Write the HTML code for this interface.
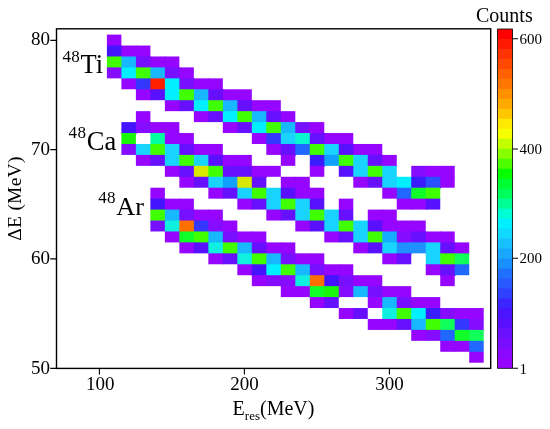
<!DOCTYPE html>
<html><head><meta charset="utf-8"><title>dE-E</title>
<style>
html,body{margin:0;padding:0;background:#fff;}
svg{display:block;}
text{font-family:"Liberation Serif",serif;fill:#000;}
</style></head><body>
<svg width="550" height="429" viewBox="0 0 550 429">
<rect width="550" height="429" fill="#fff"/>
<g id="cells">
<rect x="106.90" y="34.60" width="14.49" height="11.74" fill="#9505ff"/>
<rect x="106.90" y="45.54" width="15.29" height="11.74" fill="#4414ff"/>
<rect x="121.39" y="45.54" width="15.29" height="11.74" fill="#9505ff"/>
<rect x="135.89" y="45.54" width="14.49" height="11.74" fill="#9505ff"/>
<rect x="106.90" y="56.47" width="15.29" height="11.74" fill="#40ff00"/>
<rect x="121.39" y="56.47" width="15.29" height="11.74" fill="#18b8ff"/>
<rect x="135.89" y="56.47" width="15.29" height="11.74" fill="#7610ff"/>
<rect x="150.38" y="56.47" width="15.29" height="11.74" fill="#9505ff"/>
<rect x="164.87" y="56.47" width="14.49" height="11.74" fill="#9505ff"/>
<rect x="106.90" y="67.41" width="15.29" height="10.94" fill="#860cff"/>
<rect x="121.39" y="67.41" width="15.29" height="11.74" fill="#00f0ff"/>
<rect x="135.89" y="67.41" width="15.29" height="11.74" fill="#40ff00"/>
<rect x="150.38" y="67.41" width="15.29" height="11.74" fill="#18b8ff"/>
<rect x="164.87" y="67.41" width="15.29" height="11.74" fill="#7610ff"/>
<rect x="179.37" y="67.41" width="14.49" height="11.74" fill="#9505ff"/>
<rect x="121.39" y="78.35" width="15.29" height="10.94" fill="#9505ff"/>
<rect x="135.89" y="78.35" width="15.29" height="11.74" fill="#3438ff"/>
<rect x="150.38" y="78.35" width="15.29" height="11.74" fill="#ff2000"/>
<rect x="164.87" y="78.35" width="15.29" height="11.74" fill="#00f0ff"/>
<rect x="179.37" y="78.35" width="15.29" height="11.74" fill="#7610ff"/>
<rect x="193.86" y="78.35" width="15.29" height="11.74" fill="#9505ff"/>
<rect x="208.35" y="78.35" width="14.49" height="11.74" fill="#9505ff"/>
<rect x="135.89" y="89.28" width="15.29" height="10.94" fill="#9505ff"/>
<rect x="150.38" y="89.28" width="15.29" height="10.94" fill="#5810ff"/>
<rect x="164.87" y="89.28" width="15.29" height="11.74" fill="#00f0ff"/>
<rect x="179.37" y="89.28" width="15.29" height="11.74" fill="#40ff00"/>
<rect x="193.86" y="89.28" width="15.29" height="11.74" fill="#18b8ff"/>
<rect x="208.35" y="89.28" width="15.29" height="11.74" fill="#6610ff"/>
<rect x="222.84" y="89.28" width="15.29" height="11.74" fill="#9505ff"/>
<rect x="237.34" y="89.28" width="14.49" height="11.74" fill="#9505ff"/>
<rect x="164.87" y="100.22" width="15.29" height="10.94" fill="#9505ff"/>
<rect x="179.37" y="100.22" width="15.29" height="10.94" fill="#6610ff"/>
<rect x="193.86" y="100.22" width="15.29" height="11.74" fill="#00f0ff"/>
<rect x="208.35" y="100.22" width="15.29" height="11.74" fill="#40ff00"/>
<rect x="222.84" y="100.22" width="15.29" height="11.74" fill="#18b8ff"/>
<rect x="237.34" y="100.22" width="15.29" height="11.74" fill="#6610ff"/>
<rect x="251.83" y="100.22" width="15.29" height="11.74" fill="#9505ff"/>
<rect x="266.32" y="100.22" width="14.49" height="11.74" fill="#9505ff"/>
<rect x="135.89" y="111.16" width="14.49" height="11.74" fill="#9505ff"/>
<rect x="193.86" y="111.16" width="15.29" height="10.94" fill="#9505ff"/>
<rect x="208.35" y="111.16" width="15.29" height="10.94" fill="#6610ff"/>
<rect x="222.84" y="111.16" width="15.29" height="11.74" fill="#00f0ff"/>
<rect x="237.34" y="111.16" width="15.29" height="11.74" fill="#40ff00"/>
<rect x="251.83" y="111.16" width="15.29" height="11.74" fill="#18b8ff"/>
<rect x="266.32" y="111.16" width="15.29" height="11.74" fill="#6610ff"/>
<rect x="280.82" y="111.16" width="14.49" height="11.74" fill="#9505ff"/>
<rect x="121.39" y="122.10" width="15.29" height="11.74" fill="#4414ff"/>
<rect x="135.89" y="122.10" width="15.29" height="10.94" fill="#860cff"/>
<rect x="150.38" y="122.10" width="15.29" height="11.74" fill="#9505ff"/>
<rect x="164.87" y="122.10" width="14.49" height="11.74" fill="#9505ff"/>
<rect x="222.84" y="122.10" width="15.29" height="10.94" fill="#9505ff"/>
<rect x="237.34" y="122.10" width="15.29" height="10.94" fill="#6610ff"/>
<rect x="251.83" y="122.10" width="15.29" height="11.74" fill="#00f0ff"/>
<rect x="266.32" y="122.10" width="15.29" height="11.74" fill="#40ff00"/>
<rect x="280.82" y="122.10" width="15.29" height="11.74" fill="#18b8ff"/>
<rect x="295.31" y="122.10" width="15.29" height="11.74" fill="#7610ff"/>
<rect x="309.80" y="122.10" width="14.49" height="11.74" fill="#9505ff"/>
<rect x="121.39" y="133.03" width="14.49" height="11.74" fill="#18f808"/>
<rect x="150.38" y="133.03" width="15.29" height="11.74" fill="#00ffa0"/>
<rect x="164.87" y="133.03" width="15.29" height="11.74" fill="#9505ff"/>
<rect x="179.37" y="133.03" width="14.49" height="11.74" fill="#9505ff"/>
<rect x="251.83" y="133.03" width="15.29" height="10.94" fill="#9505ff"/>
<rect x="266.32" y="133.03" width="15.29" height="11.74" fill="#3438ff"/>
<rect x="280.82" y="133.03" width="15.29" height="11.74" fill="#18d4ff"/>
<rect x="295.31" y="133.03" width="15.29" height="11.74" fill="#08f8d0"/>
<rect x="309.80" y="133.03" width="15.29" height="11.74" fill="#6610ff"/>
<rect x="324.30" y="133.03" width="15.29" height="11.74" fill="#9505ff"/>
<rect x="338.79" y="133.03" width="14.49" height="11.74" fill="#9505ff"/>
<rect x="121.39" y="143.97" width="15.29" height="10.94" fill="#860cff"/>
<rect x="135.89" y="143.97" width="15.29" height="11.74" fill="#18d4ff"/>
<rect x="150.38" y="143.97" width="15.29" height="11.74" fill="#40ff00"/>
<rect x="164.87" y="143.97" width="15.29" height="11.74" fill="#18d4ff"/>
<rect x="179.37" y="143.97" width="15.29" height="11.74" fill="#6610ff"/>
<rect x="193.86" y="143.97" width="15.29" height="11.74" fill="#9505ff"/>
<rect x="208.35" y="143.97" width="14.49" height="11.74" fill="#9505ff"/>
<rect x="266.32" y="143.97" width="15.29" height="10.94" fill="#9505ff"/>
<rect x="280.82" y="143.97" width="15.29" height="11.74" fill="#6610ff"/>
<rect x="295.31" y="143.97" width="15.29" height="10.94" fill="#2068ff"/>
<rect x="309.80" y="143.97" width="15.29" height="11.74" fill="#40ff00"/>
<rect x="324.30" y="143.97" width="15.29" height="11.74" fill="#18d4ff"/>
<rect x="338.79" y="143.97" width="15.29" height="11.74" fill="#5810ff"/>
<rect x="353.28" y="143.97" width="15.29" height="11.74" fill="#9505ff"/>
<rect x="367.77" y="143.97" width="14.49" height="11.74" fill="#9505ff"/>
<rect x="135.89" y="154.91" width="15.29" height="10.94" fill="#9505ff"/>
<rect x="150.38" y="154.91" width="15.29" height="10.94" fill="#6610ff"/>
<rect x="164.87" y="154.91" width="15.29" height="11.74" fill="#18d4ff"/>
<rect x="179.37" y="154.91" width="15.29" height="11.74" fill="#40ff00"/>
<rect x="193.86" y="154.91" width="15.29" height="11.74" fill="#18d4ff"/>
<rect x="208.35" y="154.91" width="15.29" height="11.74" fill="#5810ff"/>
<rect x="222.84" y="154.91" width="15.29" height="11.74" fill="#9505ff"/>
<rect x="237.34" y="154.91" width="14.49" height="11.74" fill="#9505ff"/>
<rect x="280.82" y="154.91" width="14.49" height="10.94" fill="#9505ff"/>
<rect x="309.80" y="154.91" width="15.29" height="11.74" fill="#3a1cff"/>
<rect x="324.30" y="154.91" width="15.29" height="10.94" fill="#10a0ff"/>
<rect x="338.79" y="154.91" width="15.29" height="11.74" fill="#40ff00"/>
<rect x="353.28" y="154.91" width="15.29" height="11.74" fill="#18d4ff"/>
<rect x="367.77" y="154.91" width="15.29" height="11.74" fill="#6610ff"/>
<rect x="382.27" y="154.91" width="14.49" height="11.74" fill="#9505ff"/>
<rect x="164.87" y="165.84" width="15.29" height="10.94" fill="#9505ff"/>
<rect x="179.37" y="165.84" width="15.29" height="11.74" fill="#6610ff"/>
<rect x="193.86" y="165.84" width="15.29" height="11.74" fill="#d8e800"/>
<rect x="208.35" y="165.84" width="15.29" height="11.74" fill="#40ff00"/>
<rect x="222.84" y="165.84" width="15.29" height="11.74" fill="#6610ff"/>
<rect x="237.34" y="165.84" width="15.29" height="11.74" fill="#6610ff"/>
<rect x="251.83" y="165.84" width="15.29" height="11.74" fill="#9505ff"/>
<rect x="266.32" y="165.84" width="14.49" height="10.94" fill="#9505ff"/>
<rect x="309.80" y="165.84" width="14.49" height="10.94" fill="#9505ff"/>
<rect x="338.79" y="165.84" width="15.29" height="10.94" fill="#5810ff"/>
<rect x="353.28" y="165.84" width="15.29" height="11.74" fill="#18d4ff"/>
<rect x="367.77" y="165.84" width="15.29" height="11.74" fill="#40ff00"/>
<rect x="382.27" y="165.84" width="14.49" height="11.74" fill="#18d4ff"/>
<rect x="411.25" y="165.84" width="15.29" height="11.74" fill="#860cff"/>
<rect x="425.75" y="165.84" width="15.29" height="11.74" fill="#9505ff"/>
<rect x="440.24" y="165.84" width="14.49" height="11.74" fill="#9505ff"/>
<rect x="179.37" y="176.78" width="15.29" height="10.94" fill="#9505ff"/>
<rect x="193.86" y="176.78" width="15.29" height="10.94" fill="#6610ff"/>
<rect x="208.35" y="176.78" width="15.29" height="11.74" fill="#18d4ff"/>
<rect x="222.84" y="176.78" width="15.29" height="11.74" fill="#10a0ff"/>
<rect x="237.34" y="176.78" width="15.29" height="11.74" fill="#d8e800"/>
<rect x="251.83" y="176.78" width="14.49" height="11.74" fill="#6610ff"/>
<rect x="280.82" y="176.78" width="15.29" height="11.74" fill="#9505ff"/>
<rect x="295.31" y="176.78" width="14.49" height="11.74" fill="#9505ff"/>
<rect x="353.28" y="176.78" width="15.29" height="10.94" fill="#9505ff"/>
<rect x="367.77" y="176.78" width="15.29" height="10.94" fill="#6610ff"/>
<rect x="382.27" y="176.78" width="15.29" height="11.74" fill="#18d4ff"/>
<rect x="396.76" y="176.78" width="15.29" height="11.74" fill="#00f0ff"/>
<rect x="411.25" y="176.78" width="15.29" height="11.74" fill="#3a1cff"/>
<rect x="425.75" y="176.78" width="15.29" height="11.74" fill="#2a50ff"/>
<rect x="440.24" y="176.78" width="14.49" height="10.94" fill="#9505ff"/>
<rect x="150.38" y="187.72" width="14.49" height="11.74" fill="#9505ff"/>
<rect x="208.35" y="187.72" width="15.29" height="10.94" fill="#9505ff"/>
<rect x="222.84" y="187.72" width="15.29" height="10.94" fill="#6610ff"/>
<rect x="237.34" y="187.72" width="15.29" height="11.74" fill="#18d4ff"/>
<rect x="251.83" y="187.72" width="15.29" height="11.74" fill="#40ff00"/>
<rect x="266.32" y="187.72" width="15.29" height="11.74" fill="#18d4ff"/>
<rect x="280.82" y="187.72" width="15.29" height="11.74" fill="#5810ff"/>
<rect x="295.31" y="187.72" width="15.29" height="11.74" fill="#9505ff"/>
<rect x="309.80" y="187.72" width="14.49" height="11.74" fill="#9505ff"/>
<rect x="382.27" y="187.72" width="15.29" height="10.94" fill="#9505ff"/>
<rect x="396.76" y="187.72" width="15.29" height="11.74" fill="#2068ff"/>
<rect x="411.25" y="187.72" width="15.29" height="11.74" fill="#10ff28"/>
<rect x="425.75" y="187.72" width="14.49" height="11.74" fill="#40ff00"/>
<rect x="150.38" y="198.65" width="15.29" height="11.74" fill="#4414ff"/>
<rect x="164.87" y="198.65" width="15.29" height="11.74" fill="#9505ff"/>
<rect x="179.37" y="198.65" width="14.49" height="11.74" fill="#9505ff"/>
<rect x="237.34" y="198.65" width="15.29" height="10.94" fill="#9505ff"/>
<rect x="251.83" y="198.65" width="15.29" height="10.94" fill="#6610ff"/>
<rect x="266.32" y="198.65" width="15.29" height="11.74" fill="#18d4ff"/>
<rect x="280.82" y="198.65" width="15.29" height="11.74" fill="#40ff00"/>
<rect x="295.31" y="198.65" width="15.29" height="11.74" fill="#18d4ff"/>
<rect x="309.80" y="198.65" width="14.49" height="11.74" fill="#5810ff"/>
<rect x="338.79" y="198.65" width="14.49" height="11.74" fill="#9505ff"/>
<rect x="396.76" y="198.65" width="15.29" height="10.94" fill="#9505ff"/>
<rect x="411.25" y="198.65" width="15.29" height="10.94" fill="#9505ff"/>
<rect x="425.75" y="198.65" width="14.49" height="10.94" fill="#5810ff"/>
<rect x="150.38" y="209.59" width="15.29" height="11.74" fill="#40ff00"/>
<rect x="164.87" y="209.59" width="15.29" height="11.74" fill="#18b8ff"/>
<rect x="179.37" y="209.59" width="15.29" height="11.74" fill="#7610ff"/>
<rect x="193.86" y="209.59" width="15.29" height="11.74" fill="#9505ff"/>
<rect x="208.35" y="209.59" width="14.49" height="11.74" fill="#9505ff"/>
<rect x="266.32" y="209.59" width="15.29" height="10.94" fill="#9505ff"/>
<rect x="280.82" y="209.59" width="15.29" height="10.94" fill="#6610ff"/>
<rect x="295.31" y="209.59" width="15.29" height="11.74" fill="#18d4ff"/>
<rect x="309.80" y="209.59" width="15.29" height="11.74" fill="#40ff00"/>
<rect x="324.30" y="209.59" width="15.29" height="11.74" fill="#18d4ff"/>
<rect x="338.79" y="209.59" width="14.49" height="11.74" fill="#6610ff"/>
<rect x="367.77" y="209.59" width="15.29" height="11.74" fill="#9505ff"/>
<rect x="382.27" y="209.59" width="14.49" height="11.74" fill="#9505ff"/>
<rect x="150.38" y="220.53" width="15.29" height="10.94" fill="#7610ff"/>
<rect x="164.87" y="220.53" width="15.29" height="11.74" fill="#10f0e0"/>
<rect x="179.37" y="220.53" width="15.29" height="11.74" fill="#ff7000"/>
<rect x="193.86" y="220.53" width="15.29" height="11.74" fill="#3438ff"/>
<rect x="208.35" y="220.53" width="15.29" height="11.74" fill="#860cff"/>
<rect x="222.84" y="220.53" width="14.49" height="11.74" fill="#9505ff"/>
<rect x="295.31" y="220.53" width="15.29" height="10.94" fill="#9505ff"/>
<rect x="309.80" y="220.53" width="15.29" height="10.94" fill="#5810ff"/>
<rect x="324.30" y="220.53" width="15.29" height="11.74" fill="#18d4ff"/>
<rect x="338.79" y="220.53" width="15.29" height="11.74" fill="#40ff00"/>
<rect x="353.28" y="220.53" width="15.29" height="11.74" fill="#18d4ff"/>
<rect x="367.77" y="220.53" width="15.29" height="11.74" fill="#5810ff"/>
<rect x="382.27" y="220.53" width="15.29" height="11.74" fill="#9505ff"/>
<rect x="396.76" y="220.53" width="15.29" height="11.74" fill="#9505ff"/>
<rect x="411.25" y="220.53" width="14.49" height="11.74" fill="#9505ff"/>
<rect x="164.87" y="231.47" width="15.29" height="10.94" fill="#9505ff"/>
<rect x="179.37" y="231.47" width="15.29" height="11.74" fill="#10ff28"/>
<rect x="193.86" y="231.47" width="15.29" height="11.74" fill="#40ff00"/>
<rect x="208.35" y="231.47" width="15.29" height="11.74" fill="#18b8ff"/>
<rect x="222.84" y="231.47" width="15.29" height="11.74" fill="#7610ff"/>
<rect x="237.34" y="231.47" width="15.29" height="11.74" fill="#9505ff"/>
<rect x="251.83" y="231.47" width="14.49" height="11.74" fill="#9505ff"/>
<rect x="324.30" y="231.47" width="15.29" height="10.94" fill="#9505ff"/>
<rect x="338.79" y="231.47" width="15.29" height="10.94" fill="#6610ff"/>
<rect x="353.28" y="231.47" width="15.29" height="11.74" fill="#18d4ff"/>
<rect x="367.77" y="231.47" width="15.29" height="11.74" fill="#40ff00"/>
<rect x="382.27" y="231.47" width="15.29" height="11.74" fill="#14acff"/>
<rect x="396.76" y="231.47" width="15.29" height="11.74" fill="#860cff"/>
<rect x="411.25" y="231.47" width="15.29" height="11.74" fill="#6610ff"/>
<rect x="425.75" y="231.47" width="15.29" height="11.74" fill="#9505ff"/>
<rect x="440.24" y="231.47" width="14.49" height="11.74" fill="#9505ff"/>
<rect x="179.37" y="242.40" width="15.29" height="10.94" fill="#9505ff"/>
<rect x="193.86" y="242.40" width="15.29" height="10.94" fill="#5810ff"/>
<rect x="208.35" y="242.40" width="15.29" height="11.74" fill="#10f0e0"/>
<rect x="222.84" y="242.40" width="15.29" height="11.74" fill="#40ff00"/>
<rect x="237.34" y="242.40" width="15.29" height="11.74" fill="#18b8ff"/>
<rect x="251.83" y="242.40" width="15.29" height="11.74" fill="#6610ff"/>
<rect x="266.32" y="242.40" width="15.29" height="11.74" fill="#9505ff"/>
<rect x="280.82" y="242.40" width="14.49" height="11.74" fill="#9505ff"/>
<rect x="353.28" y="242.40" width="15.29" height="10.94" fill="#9505ff"/>
<rect x="367.77" y="242.40" width="15.29" height="10.94" fill="#5810ff"/>
<rect x="382.27" y="242.40" width="15.29" height="11.74" fill="#18d4ff"/>
<rect x="396.76" y="242.40" width="15.29" height="11.74" fill="#2090ff"/>
<rect x="411.25" y="242.40" width="15.29" height="10.94" fill="#2090ff"/>
<rect x="425.75" y="242.40" width="15.29" height="11.74" fill="#18d4ff"/>
<rect x="440.24" y="242.40" width="15.29" height="11.74" fill="#6610ff"/>
<rect x="454.73" y="242.40" width="14.49" height="11.74" fill="#9505ff"/>
<rect x="208.35" y="253.34" width="15.29" height="10.94" fill="#9505ff"/>
<rect x="222.84" y="253.34" width="15.29" height="10.94" fill="#6610ff"/>
<rect x="237.34" y="253.34" width="15.29" height="11.74" fill="#10f0e0"/>
<rect x="251.83" y="253.34" width="15.29" height="11.74" fill="#40ff00"/>
<rect x="266.32" y="253.34" width="15.29" height="11.74" fill="#18b8ff"/>
<rect x="280.82" y="253.34" width="15.29" height="11.74" fill="#7610ff"/>
<rect x="295.31" y="253.34" width="15.29" height="11.74" fill="#9505ff"/>
<rect x="309.80" y="253.34" width="14.49" height="11.74" fill="#9505ff"/>
<rect x="382.27" y="253.34" width="15.29" height="10.94" fill="#9505ff"/>
<rect x="396.76" y="253.34" width="14.49" height="10.94" fill="#6610ff"/>
<rect x="425.75" y="253.34" width="15.29" height="11.74" fill="#18d4ff"/>
<rect x="440.24" y="253.34" width="15.29" height="11.74" fill="#40ff00"/>
<rect x="454.73" y="253.34" width="14.49" height="11.74" fill="#10ff58"/>
<rect x="237.34" y="264.28" width="15.29" height="10.94" fill="#9505ff"/>
<rect x="251.83" y="264.28" width="15.29" height="11.74" fill="#4414ff"/>
<rect x="266.32" y="264.28" width="15.29" height="11.74" fill="#00f0ff"/>
<rect x="280.82" y="264.28" width="15.29" height="11.74" fill="#40ff00"/>
<rect x="295.31" y="264.28" width="15.29" height="11.74" fill="#18b8ff"/>
<rect x="309.80" y="264.28" width="15.29" height="11.74" fill="#7610ff"/>
<rect x="324.30" y="264.28" width="15.29" height="11.74" fill="#9505ff"/>
<rect x="338.79" y="264.28" width="14.49" height="11.74" fill="#9505ff"/>
<rect x="425.75" y="264.28" width="15.29" height="10.94" fill="#9505ff"/>
<rect x="440.24" y="264.28" width="15.29" height="11.74" fill="#6610ff"/>
<rect x="454.73" y="264.28" width="14.49" height="10.94" fill="#2068ff"/>
<rect x="251.83" y="275.21" width="15.29" height="10.94" fill="#9505ff"/>
<rect x="266.32" y="275.21" width="15.29" height="10.94" fill="#860cff"/>
<rect x="280.82" y="275.21" width="15.29" height="11.74" fill="#860cff"/>
<rect x="295.31" y="275.21" width="15.29" height="11.74" fill="#10f0e0"/>
<rect x="309.80" y="275.21" width="15.29" height="11.74" fill="#ff7000"/>
<rect x="324.30" y="275.21" width="15.29" height="11.74" fill="#4414ff"/>
<rect x="338.79" y="275.21" width="15.29" height="11.74" fill="#7610ff"/>
<rect x="353.28" y="275.21" width="15.29" height="11.74" fill="#9505ff"/>
<rect x="367.77" y="275.21" width="14.49" height="11.74" fill="#9505ff"/>
<rect x="440.24" y="275.21" width="14.49" height="10.94" fill="#9505ff"/>
<rect x="280.82" y="286.15" width="15.29" height="10.94" fill="#9505ff"/>
<rect x="295.31" y="286.15" width="15.29" height="10.94" fill="#9505ff"/>
<rect x="309.80" y="286.15" width="15.29" height="11.74" fill="#10ff28"/>
<rect x="324.30" y="286.15" width="15.29" height="11.74" fill="#18f808"/>
<rect x="338.79" y="286.15" width="15.29" height="10.94" fill="#860cff"/>
<rect x="353.28" y="286.15" width="15.29" height="10.94" fill="#18b8ff"/>
<rect x="367.77" y="286.15" width="15.29" height="11.74" fill="#7610ff"/>
<rect x="382.27" y="286.15" width="15.29" height="11.74" fill="#9505ff"/>
<rect x="396.76" y="286.15" width="14.49" height="11.74" fill="#9505ff"/>
<rect x="309.80" y="297.09" width="15.29" height="10.94" fill="#9505ff"/>
<rect x="324.30" y="297.09" width="14.49" height="10.94" fill="#6610ff"/>
<rect x="367.77" y="297.09" width="15.29" height="10.94" fill="#9505ff"/>
<rect x="382.27" y="297.09" width="15.29" height="11.74" fill="#18b8ff"/>
<rect x="396.76" y="297.09" width="15.29" height="11.74" fill="#7610ff"/>
<rect x="411.25" y="297.09" width="15.29" height="11.74" fill="#9505ff"/>
<rect x="425.75" y="297.09" width="14.49" height="11.74" fill="#9505ff"/>
<rect x="338.79" y="308.03" width="15.29" height="10.94" fill="#9505ff"/>
<rect x="353.28" y="308.03" width="14.49" height="10.94" fill="#6610ff"/>
<rect x="382.27" y="308.03" width="15.29" height="11.74" fill="#10f0e0"/>
<rect x="396.76" y="308.03" width="15.29" height="11.74" fill="#40ff00"/>
<rect x="411.25" y="308.03" width="15.29" height="11.74" fill="#00f0ff"/>
<rect x="425.75" y="308.03" width="15.29" height="11.74" fill="#3a1cff"/>
<rect x="440.24" y="308.03" width="15.29" height="11.74" fill="#860cff"/>
<rect x="454.73" y="308.03" width="15.29" height="11.74" fill="#9505ff"/>
<rect x="469.23" y="308.03" width="14.49" height="11.74" fill="#9505ff"/>
<rect x="367.77" y="318.96" width="15.29" height="10.94" fill="#9505ff"/>
<rect x="382.27" y="318.96" width="15.29" height="10.94" fill="#9505ff"/>
<rect x="396.76" y="318.96" width="15.29" height="10.94" fill="#6610ff"/>
<rect x="411.25" y="318.96" width="15.29" height="11.74" fill="#18b8ff"/>
<rect x="425.75" y="318.96" width="15.29" height="11.74" fill="#40ff00"/>
<rect x="440.24" y="318.96" width="15.29" height="11.74" fill="#10ff58"/>
<rect x="454.73" y="318.96" width="15.29" height="11.74" fill="#3438ff"/>
<rect x="469.23" y="318.96" width="14.49" height="11.74" fill="#860cff"/>
<rect x="411.25" y="329.90" width="15.29" height="10.94" fill="#9505ff"/>
<rect x="425.75" y="329.90" width="15.29" height="10.94" fill="#860cff"/>
<rect x="440.24" y="329.90" width="15.29" height="11.74" fill="#2068ff"/>
<rect x="454.73" y="329.90" width="15.29" height="11.74" fill="#10ff28"/>
<rect x="469.23" y="329.90" width="14.49" height="11.74" fill="#10ff58"/>
<rect x="440.24" y="340.84" width="15.29" height="10.94" fill="#9505ff"/>
<rect x="454.73" y="340.84" width="15.29" height="10.94" fill="#9505ff"/>
<rect x="469.23" y="340.84" width="14.49" height="11.74" fill="#2068ff"/>
<rect x="469.23" y="351.77" width="14.49" height="10.94" fill="#9505ff"/>
</g>
<g id="cb">
<rect x="497.6" y="29.00" width="15" height="10.78" fill="#ff0000"/>
<rect x="497.6" y="38.98" width="15" height="10.78" fill="#ff1900"/>
<rect x="497.6" y="48.96" width="15" height="10.78" fill="#ff3300"/>
<rect x="497.6" y="58.94" width="15" height="10.78" fill="#ff4800"/>
<rect x="497.6" y="68.92" width="15" height="10.78" fill="#ff6100"/>
<rect x="497.6" y="78.90" width="15" height="10.78" fill="#ff7700"/>
<rect x="497.6" y="88.88" width="15" height="10.78" fill="#ff9000"/>
<rect x="497.6" y="98.86" width="15" height="10.78" fill="#ffaa00"/>
<rect x="497.6" y="108.84" width="15" height="10.78" fill="#ffc700"/>
<rect x="497.6" y="118.81" width="15" height="10.78" fill="#ffe900"/>
<rect x="497.6" y="128.79" width="15" height="10.78" fill="#f6ff00"/>
<rect x="497.6" y="138.77" width="15" height="10.78" fill="#c3ff00"/>
<rect x="497.6" y="148.75" width="15" height="10.78" fill="#88ff00"/>
<rect x="497.6" y="158.73" width="15" height="10.78" fill="#4cff00"/>
<rect x="497.6" y="168.71" width="15" height="10.78" fill="#08ff00"/>
<rect x="497.6" y="178.69" width="15" height="10.78" fill="#00ff32"/>
<rect x="497.6" y="188.67" width="15" height="10.78" fill="#00ff5d"/>
<rect x="497.6" y="198.65" width="15" height="10.78" fill="#00ff94"/>
<rect x="497.6" y="208.63" width="15" height="10.78" fill="#00ffd4"/>
<rect x="497.6" y="218.61" width="15" height="10.78" fill="#00f0ff"/>
<rect x="497.6" y="228.59" width="15" height="10.78" fill="#10d8ff"/>
<rect x="497.6" y="238.57" width="15" height="10.78" fill="#18c0ff"/>
<rect x="497.6" y="248.55" width="15" height="10.78" fill="#18a8ff"/>
<rect x="497.6" y="258.53" width="15" height="10.78" fill="#1890ff"/>
<rect x="497.6" y="268.51" width="15" height="10.78" fill="#2070ff"/>
<rect x="497.6" y="278.49" width="15" height="10.78" fill="#2858ff"/>
<rect x="497.6" y="288.46" width="15" height="10.78" fill="#3040ff"/>
<rect x="497.6" y="298.44" width="15" height="10.78" fill="#3a24ff"/>
<rect x="497.6" y="308.42" width="15" height="10.78" fill="#4a14ff"/>
<rect x="497.6" y="318.40" width="15" height="10.78" fill="#5a10ff"/>
<rect x="497.6" y="328.38" width="15" height="10.78" fill="#6a10ff"/>
<rect x="497.6" y="338.36" width="15" height="10.78" fill="#7a0cff"/>
<rect x="497.6" y="348.34" width="15" height="10.78" fill="#8a08ff"/>
<rect x="497.6" y="358.32" width="15" height="9.98" fill="#9505ff"/>
<rect x="497.6" y="29" width="15" height="339.3" fill="none" stroke="#000" stroke-width="0.8"/>
</g>
<g stroke="#000" stroke-width="1.4" fill="none">
<rect x="56.5" y="28.8" width="434.2" height="339.6"/>
<path d="M50.3 40.3H56.5M50.3 149.6H56.5M50.3 258.9H56.5M50.3 368.4H56.5" stroke-width="1.2"/>
<path d="M99.4 368.4V374.4M244.4 368.4V374.4M389.4 368.4V374.4" stroke-width="1.1"/>
<path d="M512.6 38.8H518M512.6 149H518M512.6 258.2H518M512.6 368.3H518" stroke-width="1.1"/>
</g>
<g font-size="19px" text-anchor="end">
<text x="50" y="45.3">80</text>
<text x="50" y="154.8">70</text>
<text x="50" y="264.2">60</text>
<text x="50" y="373.6">50</text>
</g>
<g font-size="19px" text-anchor="middle">
<text x="100.2" y="389.8">100</text>
<text x="244.4" y="389.8">200</text>
<text x="389.5" y="389.8">300</text>
</g>
<g font-size="15px">
<text x="519.6" y="44">600</text>
<text x="519.6" y="154">400</text>
<text x="519.6" y="263.3">200</text>
<text x="519.6" y="373.5">1</text>
</g>
<text x="476" y="21.8" font-size="20px">Counts</text>
<text x="232.6" y="415" font-size="20px">E<tspan font-size="13px" dy="4.6">res</tspan><tspan dy="-4.6">(MeV)</tspan></text>
<text transform="translate(20.9,240.7) rotate(-90)" font-size="19.5px" letter-spacing="0.25">ΔE (MeV)</text>
<text x="62.4" y="72.6" font-size="26.5px"><tspan font-size="17px" letter-spacing="0.4" dy="-11.1">48</tspan><tspan dy="11.1" dx="0.3">Ti</tspan></text>
<text x="68.6" y="149.9" font-size="26.5px"><tspan font-size="17px" letter-spacing="0.4" dy="-11.9">48</tspan><tspan dy="11.9" dx="0.3">Ca</tspan></text>
<text x="98.2" y="215.1" font-size="26.2px"><tspan font-size="17px" letter-spacing="0.4" dy="-11.7">48</tspan><tspan dy="11.7" dx="0.3">Ar</tspan></text>
</svg>
</body></html>
